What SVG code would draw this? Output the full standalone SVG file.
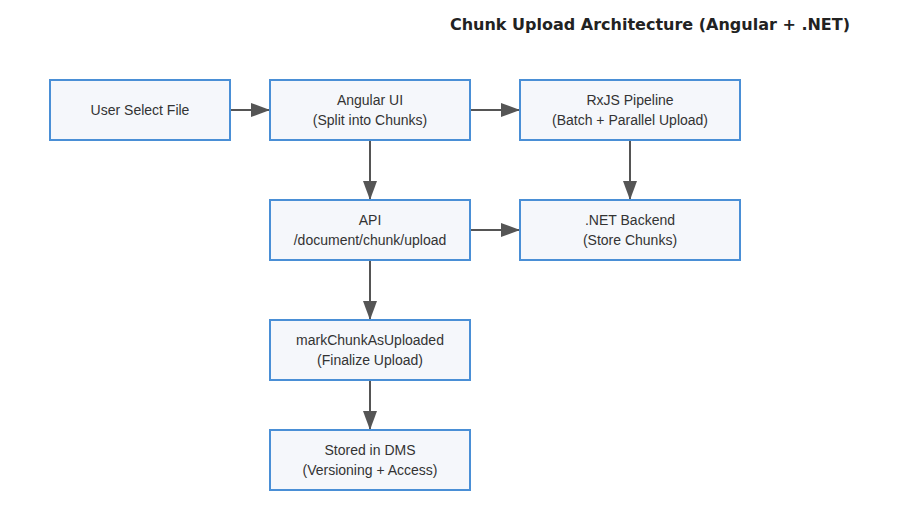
<svg xmlns="http://www.w3.org/2000/svg" width="900" height="520" viewBox="0 0 900 520">
<style>
.box{fill:#f5f7fb;stroke:#4a8fd6;stroke-width:2}
.t{font-family:"Liberation Sans",Arial,sans-serif;font-size:14px;fill:#333;text-anchor:middle}
.title{font-family:"DejaVu Sans",sans-serif;font-size:16px;font-weight:bold;fill:#222;text-anchor:end}
.e{stroke:#555;stroke-width:2;fill:none;marker-end:url(#ah)}
</style>
<defs>
<marker id="ah" markerWidth="19" markerHeight="14" refX="19" refY="7" orient="auto" markerUnits="userSpaceOnUse">
<path d="M0,0 L19,7 L0,14 Z" fill="#555"/>
</marker>
</defs>
<rect width="900" height="520" fill="#fff"/>
<text class="title" x="850" y="30">Chunk Upload Architecture (Angular + .NET)</text>
<g id="connectors">
<line class="e" x1="230" y1="110" x2="270" y2="110"/>
<line class="e" x1="470" y1="110" x2="520" y2="110"/>
<line class="e" x1="370" y1="140" x2="370" y2="200"/>
<line class="e" x1="630" y1="140" x2="630" y2="200"/>
<line class="e" x1="470" y1="230" x2="520" y2="230"/>
<line class="e" x1="370" y1="260" x2="370" y2="320"/>
<line class="e" x1="370" y1="380" x2="370" y2="430"/>
</g>
<g id="user">
<rect class="box" x="50" y="80" width="180" height="60"/>
<text class="t" x="140" y="115">User Select File</text>
</g>
<g id="angular">
<rect class="box" x="270" y="80" width="200" height="60"/>
<text class="t" x="370" y="105">Angular UI</text>
<text class="t" x="370" y="125">(Split into Chunks)</text>
</g>
<g id="rxjs">
<rect class="box" x="520" y="80" width="220" height="60"/>
<text class="t" x="630" y="105">RxJS Pipeline</text>
<text class="t" x="630" y="125">(Batch + Parallel Upload)</text>
</g>
<g id="api">
<rect class="box" x="270" y="200" width="200" height="60"/>
<text class="t" x="370" y="225">API</text>
<text class="t" x="370" y="245">/document/chunk/upload</text>
</g>
<g id="backend">
<rect class="box" x="520" y="200" width="220" height="60"/>
<text class="t" x="630" y="225">.NET Backend</text>
<text class="t" x="630" y="245">(Store Chunks)</text>
</g>
<g id="mark">
<rect class="box" x="270" y="320" width="200" height="60"/>
<text class="t" x="370" y="345">markChunkAsUploaded</text>
<text class="t" x="370" y="365">(Finalize Upload)</text>
</g>
<g id="dms">
<rect class="box" x="270" y="430" width="200" height="60"/>
<text class="t" x="370" y="455">Stored in DMS</text>
<text class="t" x="370" y="475">(Versioning + Access)</text>
</g>
</svg>
